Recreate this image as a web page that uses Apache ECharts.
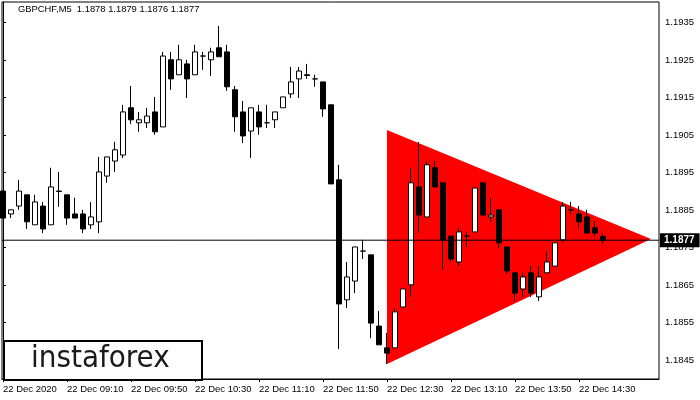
<!DOCTYPE html>
<html><head><meta charset="utf-8">
<script src="https://cdn.jsdelivr.net/npm/echarts@6/dist/echarts.min.js"></script>
<style>html,body{margin:0;padding:0;background:#fff}#c{width:700px;height:400px}</style>
</head><body><div id="c"></div>
<script>
const titleText = 'GBPCHF,M5  1.1878 1.1879 1.1876 1.1877';
const opens = [1.18901,1.18840,1.18861,1.18891,1.18811,1.18861,1.18811,1.18901,1.18891,1.18840,
1.18840,1.18811,1.18819,1.18941,1.18981,1.18997,1.19123,1.19083,1.19083,1.19112,
1.19072,1.19251,1.19211,1.19240,1.19211,1.19261,1.19251,1.19283,1.19272,1.19171,
1.19112,1.19061,1.19112,1.19083,1.19091,1.19123,1.19160,1.19200,1.19211,1.19200,
1.19192,1.19131,1.18931,1.18611,1.18661,1.18741,1.18731,1.18541,1.18483,1.18483,
1.18592,1.18651,1.18912,1.18832,1.18963,1.18923,1.18781,1.18712,1.18781,1.18792,
1.18923,1.18832,1.18851,1.18752,1.18683,1.18640,1.18683,1.18619,1.18683,1.18701,
1.18771,1.18851,1.18840,1.18832,1.18803,1.1878];
const closes = [1.18829,1.18851,1.18901,1.18819,1.18872,1.18800,1.18912,1.18900,1.18829,1.18829,
1.18800,1.18832,1.18952,1.18992,1.19011,1.19112,1.19091,1.19091,1.19101,1.19059,
1.19261,1.19200,1.19251,1.19200,1.19272,1.19261,1.19272,1.19259,1.19179,1.19099,
1.19048,1.19123,1.19072,1.19083,1.19112,1.19152,1.19192,1.19221,1.19209,1.19200,
1.19120,1.18920,1.18600,1.18672,1.18752,1.18741,1.18549,1.18491,1.18469,1.18579,
1.18640,1.18923,1.18837,1.18971,1.18912,1.18771,1.18720,1.18792,1.18781,1.18909,
1.18837,1.18837,1.18763,1.18688,1.18629,1.18672,1.18629,1.18672,1.18712,1.18763,
1.18861,1.18851,1.18819,1.18789,1.18789,1.1877];
const lows = [1.18829,1.18829,1.18851,1.18800,1.18811,1.18789,1.18811,1.18859,1.18811,1.18829,
1.18789,1.18800,1.18789,1.18923,1.18952,1.18989,1.19080,1.19059,1.19069,1.19051,
1.19072,1.19171,1.19211,1.19149,1.19211,1.19224,1.19208,1.19259,1.19168,1.19059,
1.19029,1.18989,1.19051,1.19069,1.19069,1.19123,1.19149,1.19149,1.19200,1.19179,
1.19099,1.18920,1.18480,1.18589,1.18629,1.18720,1.18509,1.18491,1.18440,1.18483,
1.18592,1.18619,1.18789,1.18832,1.18912,1.18691,1.18712,1.18701,1.18752,1.18792,
1.18837,1.18819,1.18749,1.18680,1.18608,1.18619,1.18619,1.18608,1.18683,1.18701,
1.18763,1.18840,1.18800,1.18789,1.18779,1.1876];
const highs = [1.18901,1.18851,1.18931,1.18891,1.18891,1.18872,1.18963,1.18952,1.18891,1.18883,
1.18851,1.18872,1.18992,1.18992,1.19032,1.19131,1.19181,1.19112,1.19123,1.19152,
1.19272,1.19272,1.19291,1.19251,1.19291,1.19272,1.19283,1.19341,1.19291,1.19181,
1.19141,1.19123,1.19131,1.19131,1.19112,1.19152,1.19232,1.19232,1.19240,1.19211,
1.19192,1.19131,1.18971,1.18712,1.18752,1.18771,1.18731,1.18581,1.18523,1.18589,
1.18640,1.18963,1.19032,1.18981,1.18981,1.18923,1.18781,1.18803,1.18792,1.18909,
1.18923,1.18883,1.18851,1.18752,1.18683,1.18683,1.18701,1.18701,1.18741,1.18763,
1.18872,1.18872,1.18861,1.18851,1.18821,1.1879];
const xTickIdx = [0,8,16,24,32,40,48,56,64,72];
const xTickLabels = ['22 Dec 2020','22 Dec 09:10','22 Dec 09:50','22 Dec 10:30','22 Dec 11:10','22 Dec 11:50','22 Dec 12:30','22 Dec 13:10','22 Dec 13:50','22 Dec 14:30'];
const yTicks = [1.1845,1.1855,1.1865,1.1875,1.1885,1.1895,1.1905,1.1915,1.1925,1.1935];
const lastPrice = 1.1877;
const triX = [48,48,81];
const triY = [1.19064,1.18440,1.18773];
const xRange = [-0.125, 82];
const yRange = [1.184, 1.19405];

const candleData = opens.map((o,i)=>[i,o,closes[i],lows[i],highs[i]]);
const FONT = 'Liberation Sans';
const chart = echarts.init(document.getElementById('c'), null, {renderer:'canvas'});
chart.setOption({
  animation:false,
  backgroundColor:'#fff',
  title:{text:titleText,left:13,top:0,textStyle:{fontFamily:FONT,fontSize:9.4,fontWeight:'normal',color:'#000'}},
  grid:{left:2,right:41,top:2,bottom:21,show:true,borderColor:'#000',borderWidth:1,backgroundColor:'#fff'},
  xAxis:{type:'value',min:xRange[0],max:xRange[1],
    axisLine:{show:true,lineStyle:{color:'#000'}},
    splitLine:{show:false},
    axisTick:{show:true,length:3,customValues:xTickIdx,lineStyle:{color:'#000'}},
    axisLabel:{customValues:xTickIdx,align:'left',margin:5,fontFamily:FONT,fontSize:9.5,color:'#000',
      formatter:(v)=>xTickLabels[xTickIdx.indexOf(Math.round(v))]||''}},
  yAxis:{type:'value',position:'right',min:yRange[0],max:yRange[1],scale:true,
    axisLine:{show:true,lineStyle:{color:'#000'}},
    splitLine:{show:false},
    axisTick:{show:true,length:3,customValues:yTicks,lineStyle:{color:'#000'}},
    axisLabel:{customValues:yTicks,margin:6,fontFamily:FONT,fontSize:9.5,color:'#000',formatter:(v)=>v.toFixed(4)}},
  graphic:[
    {type:'rect',left:3,top:340,z:100,shape:{width:198,height:39},style:{fill:'#fff',stroke:'#000',lineWidth:2}},
    {type:'text',left:31,top:343,z:101,style:{text:'instaforex',font:'31px "DejaVu Sans Condensed", "DejaVu Sans"',fill:'#1a1a1a'}}
  ],
  series:[
    {type:'custom',z:1,clip:true,
     data:triX.map((x,i)=>[x,triY[i]]),
     encode:{x:0,y:1},
     renderItem:(params,api)=>{
       if(params.dataIndex!==0) return null;
       const pts = triX.map((x,i)=>api.coord([x,triY[i]]));
       return {type:'polygon',shape:{points:pts},style:{fill:'#ff0000',stroke:'#ff0000',lineWidth:0}};
     }},
    {type:'candlestick',z:3,barWidth:5,clip:true,
     data:candleData,
     encode:{x:0,y:[1,2,3,4]},
     itemStyle:{color:'#fff',color0:'#000',borderColor:'#000',borderColor0:'#000',borderWidth:1},
     emphasis:{disabled:true}},
    {type:'line',z:4,silent:true,symbol:'none',clip:false,
     data:xRange.map(x=>[x,lastPrice]),
     lineStyle:{color:'#000',width:1},
     emphasis:{disabled:true},
     endLabel:{show:true,distance:1,formatter:()=>lastPrice.toFixed(4),backgroundColor:'#000',color:'#fff',
       fontFamily:FONT,fontSize:10,fontWeight:'bold',padding:[2,5,2,4]}}
  ]
});
</script></body></html>
